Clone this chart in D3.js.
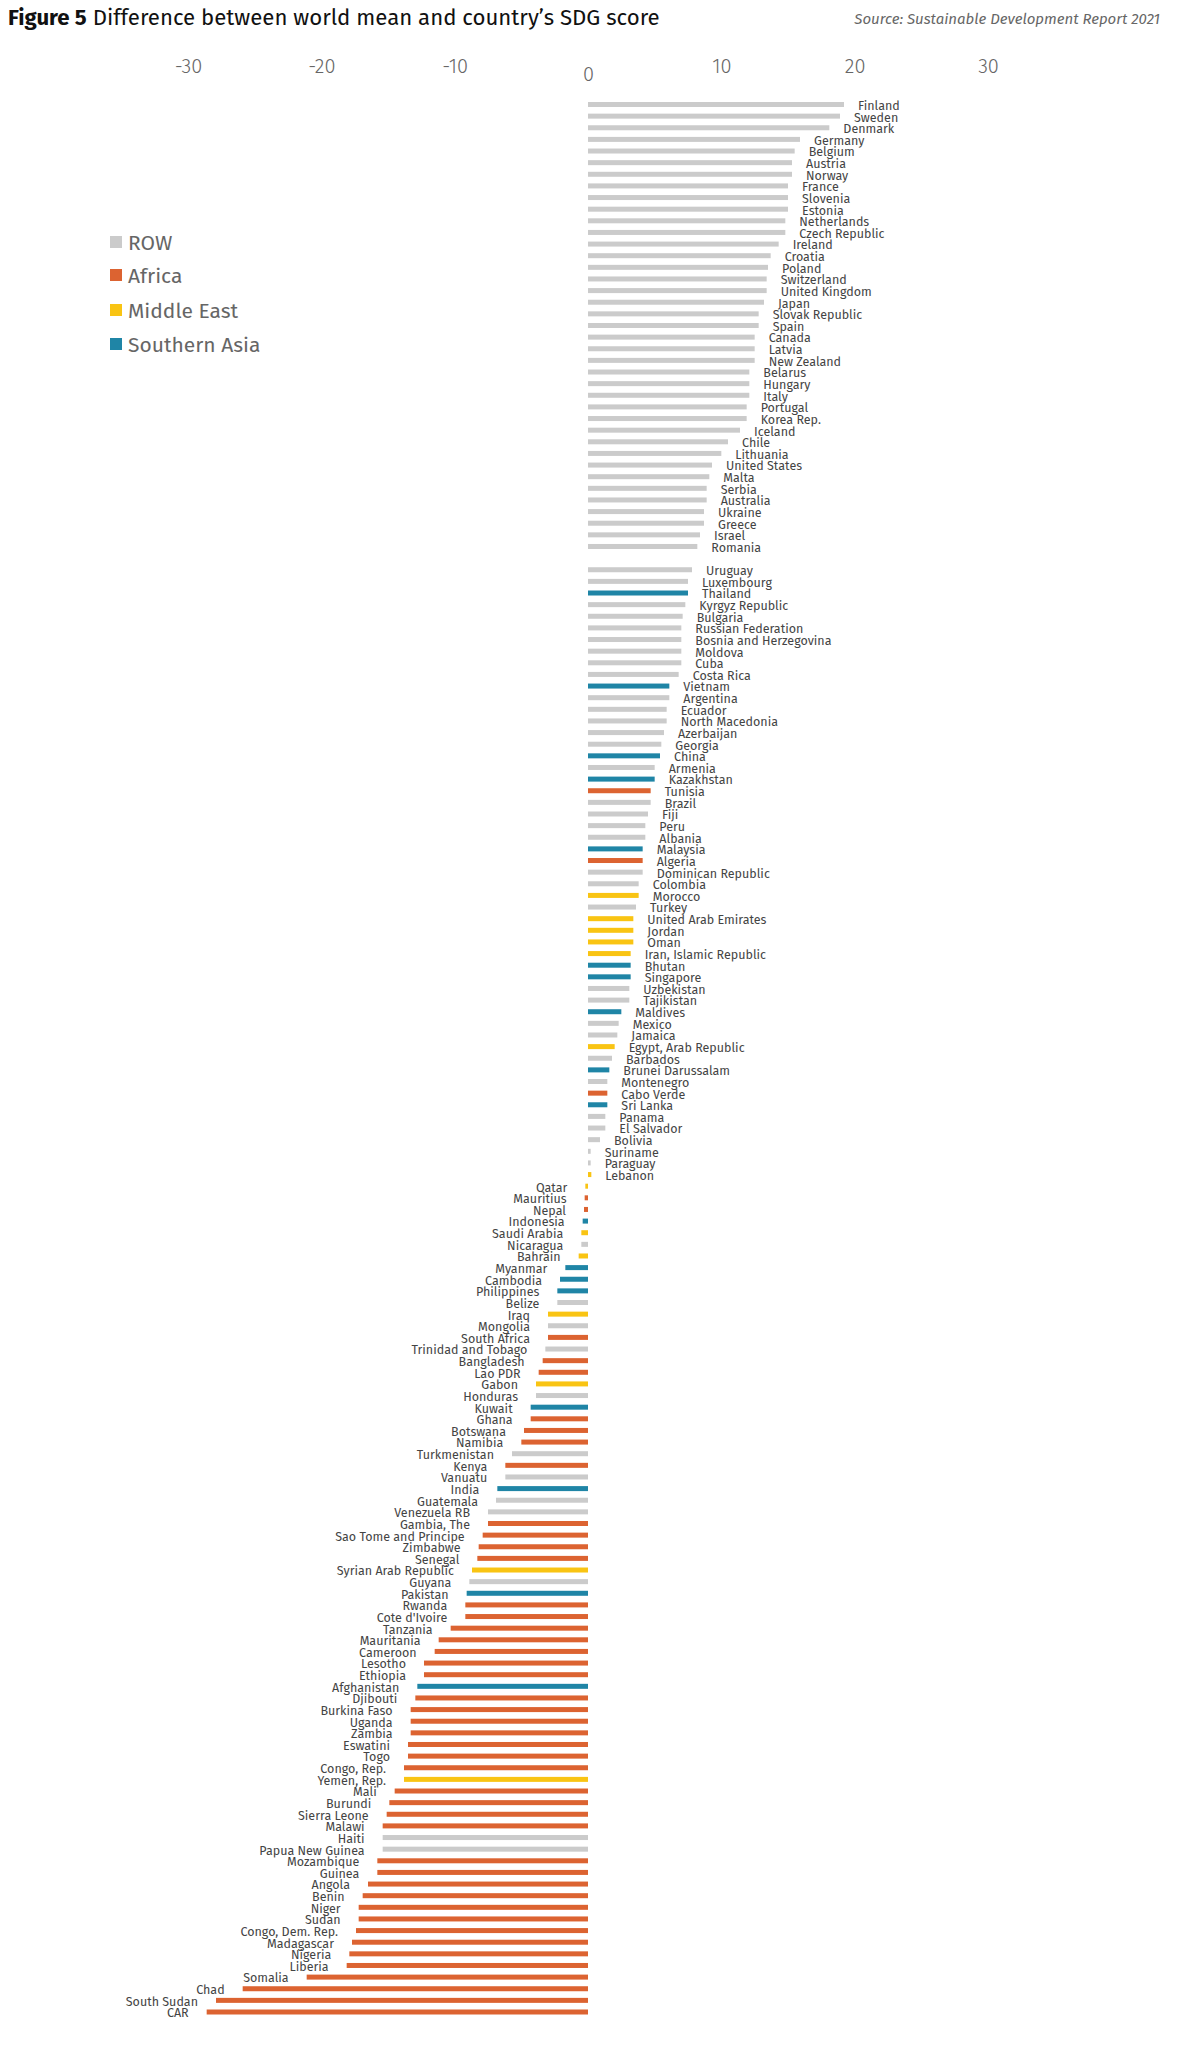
<!DOCTYPE html>
<html>
<head>
<meta charset="utf-8">
<script src="https://cdn.jsdelivr.net/npm/d3@7"></script>
<style>
    body { margin: 0; background: #fff; }
    #chart-container { width: 1178px; height: 2048px; }
</style>
</head>
<body>
<div id="chart-container"></div>
<script>
// Data (difference to world mean SDG score)
const countries = [
    "Finland", "Sweden", "Denmark", "Germany", "Belgium", "Austria", "Norway", "France", "Slovenia", "Estonia",
    "Netherlands", "Czech Republic", "Ireland", "Croatia", "Poland", "Switzerland", "United Kingdom", "Japan", "Slovak Republic", "Spain",
    "Canada", "Latvia", "New Zealand", "Belarus", "Hungary", "Italy", "Portugal", "Korea Rep.", "Iceland", "Chile",
    "Lithuania", "United States", "Malta", "Serbia", "Australia", "Ukraine", "Greece", "Israel", "Romania",
    "Uruguay", "Luxembourg", "Thailand", "Kyrgyz Republic", "Bulgaria", "Russian Federation", "Bosnia and Herzegovina", "Moldova", "Cuba", "Costa Rica",
    "Vietnam", "Argentina", "Ecuador", "North Macedonia", "Azerbaijan", "Georgia", "China", "Armenia", "Kazakhstan", "Tunisia",
    "Brazil", "Fiji", "Peru", "Albania", "Malaysia", "Algeria", "Dominican Republic", "Colombia", "Morocco", "Turkey",
    "United Arab Emirates", "Jordan", "Oman", "Iran, Islamic Republic", "Bhutan", "Singapore", "Uzbekistan", "Tajikistan", "Maldives", "Mexico",
    "Jamaica", "Egypt, Arab Republic", "Barbados", "Brunei Darussalam", "Montenegro", "Cabo Verde", "Sri Lanka", "Panama", "El Salvador", "Bolivia",
    "Suriname", "Paraguay", "Lebanon", "Qatar", "Mauritius", "Nepal", "Indonesia", "Saudi Arabia", "Nicaragua", "Bahrain",
    "Myanmar", "Cambodia", "Philippines", "Belize", "Iraq", "Mongolia", "South Africa", "Trinidad and Tobago", "Bangladesh", "Lao PDR",
    "Gabon", "Honduras", "Kuwait", "Ghana", "Botswana", "Namibia", "Turkmenistan", "Kenya", "Vanuatu", "India",
    "Guatemala", "Venezuela RB", "Gambia, The", "Sao Tome and Principe", "Zimbabwe", "Senegal", "Syrian Arab Republic", "Guyana", "Pakistan", "Rwanda",
    "Cote d'Ivoire", "Tanzania", "Mauritania", "Cameroon", "Lesotho", "Ethiopia", "Afghanistan", "Djibouti", "Burkina Faso", "Uganda",
    "Zambia", "Eswatini", "Togo", "Congo, Rep.", "Yemen, Rep.", "Mali", "Burundi", "Sierra Leone", "Malawi", "Haiti",
    "Papua New Guinea", "Mozambique", "Guinea", "Angola", "Benin", "Niger", "Sudan", "Congo, Dem. Rep.", "Madagascar", "Nigeria",
    "Liberia", "Somalia", "Chad", "South Sudan", "CAR"
];

const scores = [
    19.2, 18.9, 18.1, 15.9, 15.5, 15.3, 15.3, 15.0, 15.0, 15.0,
    14.8, 14.8, 14.3, 13.7, 13.5, 13.4, 13.4, 13.2, 12.8, 12.8,
    12.5, 12.5, 12.5, 12.1, 12.1, 12.1, 11.9, 11.9, 11.4, 10.5,
    10.0, 9.3, 9.1, 8.9, 8.9, 8.7, 8.7, 8.4, 8.2,
    7.8, 7.5, 7.5, 7.3, 7.1, 7.0, 7.0, 7.0, 7.0, 6.8,
    6.1, 6.1, 5.9, 5.9, 5.7, 5.5, 5.4, 5.0, 5.0, 4.7,
    4.7, 4.5, 4.3, 4.3, 4.1, 4.1, 4.1, 3.8, 3.8, 3.6,
    3.4, 3.4, 3.4, 3.2, 3.2, 3.2, 3.1, 3.1, 2.5, 2.3,
    2.2, 2.0, 1.8, 1.6, 1.45, 1.45, 1.45, 1.3, 1.3, 0.9,
    0.2, 0.2, 0.25, -0.2, -0.25, -0.3, -0.4, -0.5, -0.5, -0.7,
    -1.7, -2.1, -2.3, -2.3, -3.0, -3.0, -3.0, -3.2, -3.4, -3.7,
    -3.9, -3.9, -4.3, -4.3, -4.8, -5.0, -5.7, -6.2, -6.2, -6.8,
    -6.9, -7.5, -7.5, -7.9, -8.2, -8.3, -8.7, -8.9, -9.1, -9.2,
    -9.2, -10.3, -11.2, -11.5, -12.3, -12.3, -12.8, -12.95, -13.3, -13.3,
    -13.3, -13.5, -13.5, -13.8, -13.8, -14.5, -14.9, -15.1, -15.4, -15.4,
    -15.4, -15.8, -15.8, -16.5, -16.9, -17.2, -17.2, -17.4, -17.7, -17.9,
    -18.1, -21.1, -25.9, -27.9, -28.6
];

// R = ROW, A = Africa, M = Middle East, S = Southern Asia
const regions = (
    "RRRRRRRRRR" + "RRRRRRRRRR" + "RRRRRRRRRR" + "RRRRRRRRR" +
    "RRSRRRRRRR" + "SRRRRRSRSA" + "RRRRSARRMR" + "MMMMSSRRSR" +
    "RMRSRASRRR" + "RRMMAASMRM" + "SSSRMRARAA" + "MRSAAARARS" +
    "RRAAAAMRSA" + "AAAAAASAAA" + "AAAAMAAAAR" + "RAAAAAAAAA" +
    "AAAAA"
).split("");

const regionNames = { R: "ROW", A: "Africa", M: "Middle East", S: "Southern Asia" };
const regionColors = { R: "#cbcbcb", A: "#dc6331", M: "#f9c413", S: "#1f85a6" };
const legendOrder = ["R", "A", "M", "S"];

const tickValues = [-30, -20, -10, 0, 10, 20, 30];

// One empty slot between Romania and Uruguay
const gapAfter = "Romania";

const data = countries.map((c, i) => ({ country: c, value: scores[i], region: regions[i] }));

const chartContainer = document.getElementById("chart-container");
const width = 1178;
const height = 2048;
const fontStack = "'Fira Sans', 'Noto Sans', sans-serif";

const svg = d3.select(chartContainer)
              .append("svg")
              .attr("width", width)
              .attr("height", height)
              .style("font-family", fontStack);

// Scales
const x = d3.scaleLinear()
            .domain([-30, 30])
            .range([188, 988]);

const slots = [];
countries.forEach(c => {
    slots.push(c);
    if (c === gapAfter) slots.push("__gap__");
});

const y = d3.scalePoint()
            .domain(slots)
            .range([104.5, 2012]);

// Title
const title = svg.append("text")
                 .attr("x", 8)
                 .attr("y", 25)
                 .style("font-size", "22.2px")
                 .attr("fill", "#111");
title.append("tspan").style("font-weight", "bold").text("Figure 5");
title.append("tspan").text(" Difference between world mean and country\u2019s SDG score");

svg.append("text")
   .attr("x", 1160)
   .attr("y", 24)
   .attr("text-anchor", "end")
   .style("font-size", "15px")
   .style("font-style", "italic")
   .attr("fill", "#666")
   .text("Source: Sustainable Development Report 2021");

// Top axis labels (no axis line)
const axis = svg.append("g")
                .attr("transform", "translate(0,73)")
                .call(d3.axisTop(x).tickValues(tickValues).tickSize(0).tickPadding(0).tickFormat(d => String(d)));
axis.select(".domain").remove();
axis.selectAll("text")
    .attr("fill", "#666")
    .style("font-size", "20px")
    .style("font-weight", "300")
    .style("font-family", fontStack)
    .attr("dy", d => d === 0 ? "0.4em" : "0");

// Bars
svg.append("g")
   .selectAll("rect")
   .data(data)
   .enter().append("rect")
   .attr("x", d => x(Math.min(0, d.value)))
   .attr("width", d => Math.max(1, Math.abs(x(d.value) - x(0))))
   .attr("y", d => y(d.country) - 2.5)
   .attr("height", 5)
   .attr("fill", d => regionColors[d.region]);

// Country labels
svg.append("g")
   .selectAll("text")
   .data(data)
   .enter().append("text")
   .attr("x", d => d.value >= 0 ? x(d.value) + 14 : x(d.value) - 18)
   .attr("y", d => y(d.country) + 1)
   .attr("dy", "0.35em")
   .attr("text-anchor", d => d.value >= 0 ? "start" : "end")
   .style("font-size", "12.5px")
   .attr("fill", "#444")
   .text(d => d.country);

// Legend
const legend = svg.append("g")
                  .attr("transform", "translate(110,236)");

legendOrder.forEach((key, i) => {
    const item = legend.append("g")
                       .attr("transform", "translate(0," + [0, 33, 68, 102][i] + ")");
    item.append("rect")
        .attr("width", 12)
        .attr("height", 12)
        .attr("fill", regionColors[key]);
    item.append("text")
        .attr("x", 18)
        .attr("y", 6)
        .attr("dy", "0.36em")
        .style("font-size", "21px")
        .attr("fill", "#666")
        .text(regionNames[key]);
});
</script>
</body>
</html>
